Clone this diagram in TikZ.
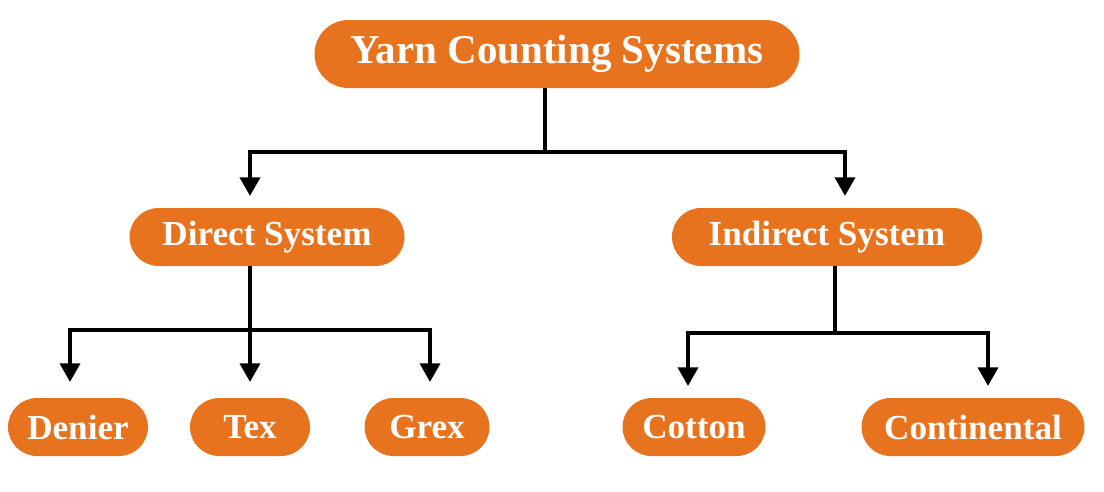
\documentclass[tikz,border=0pt]{standalone}
\usepackage{fontspec}
\setmainfont{Liberation Serif}
\usetikzlibrary{arrows.meta,shapes.misc}
\definecolor{org}{HTML}{E8731F}
\begin{document}
\begin{tikzpicture}[x=0.03cm,y=-0.03cm,
  pill/.style={rounded rectangle,fill=org,text=white,font=\bfseries\fontsize{30}{32}\selectfont,inner sep=0pt,align=center},
  conn/.style={line width=3.5pt,black},
  arr/.style={conn,-{Triangle[length=16pt,width=17pt]}}]
\useasboundingbox (0,0) rectangle (1104,491);
\node[pill,minimum width=485*0.03cm,minimum height=68*0.03cm,font=\bfseries\fontsize{35}{37}\selectfont] (top) at (557,54) {Yarn Counting Systems};
\node[pill,minimum width=275*0.03cm,minimum height=58*0.03cm] (dir) at (267,237) {Direct System};
\node[pill,minimum width=310*0.03cm,minimum height=58*0.03cm] (ind) at (827,237) {Indirect System};
\node[pill,minimum width=140*0.03cm,minimum height=58*0.03cm] (den) at (78,427) {Denier};
\node[pill,minimum width=120*0.03cm,minimum height=58*0.03cm] (tex) at (250,427) {Tex};
\node[pill,minimum width=125*0.03cm,minimum height=58*0.03cm] (grex) at (427,427) {Grex};
\node[pill,minimum width=143*0.03cm,minimum height=58*0.03cm] (cot) at (694,427) {Cotton};
\node[pill,minimum width=223*0.03cm,minimum height=58*0.03cm] (con) at (973,427) {Continental};
\coordinate (j1) at (545,152);
\coordinate (j2) at (250,330);
\coordinate (j3) at (835,333);
\draw[conn] (top.south -| j1) -- (j1);
\draw[arr] (j1) -| (250,196);
\draw[arr] (j1) -| (845,196);
\draw[conn] (dir.south -| j2) -- (j2);
\draw[arr] (j2) -| (70,382);
\draw[arr] (j2) -- (250,382);
\draw[arr] (j2) -| (430,382);
\draw[conn] (ind.south -| j3) -- (j3);
\draw[arr] (j3) -| (688,386);
\draw[arr] (j3) -| (988,386);
\end{tikzpicture}
\end{document}
